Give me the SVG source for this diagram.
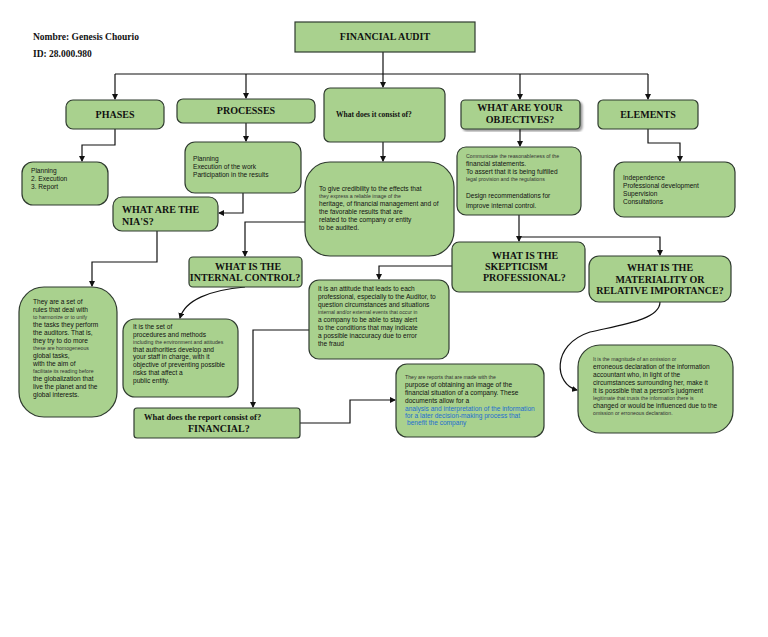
<svg xmlns="http://www.w3.org/2000/svg" width="768" height="637" viewBox="0 0 768 637">
<style>
.b{fill:#a9d18e;stroke:#2f3b2f;stroke-width:1.2}
.t{font-family:"Liberation Serif",serif;font-weight:bold;font-size:10px;fill:#111}
.s{font-family:"Liberation Sans",sans-serif;font-size:6.6px;fill:#111}
.x{font-family:"Liberation Sans",sans-serif;font-size:5.2px;fill:#333}
.bl{font-family:"Liberation Sans",sans-serif;font-size:6.6px;fill:#1f6fd0}
.c{fill:none;stroke:#111;stroke-width:1.2;marker-end:url(#a)}
</style>
<defs><marker id="a" viewBox="0 0 6 6" refX="5" refY="3" markerWidth="5" markerHeight="5" orient="auto"><path d="M0,0L6,3L0,6z" fill="#111"/></marker>
<filter id="sh"><feDropShadow dx="2" dy="2" stdDeviation="1" flood-opacity="0.4"/></filter></defs>
<rect width="768" height="637" fill="#fff"/>
<text class="t" x="33" y="40" style="font-size:9.5px">Nombre: Genesis Chourio</text>
<text class="t" x="33" y="57" style="font-size:9.5px">ID: 28.000.980</text>
<g id="connectors">
<path d="M383,52V74M115,74H648" fill="none" stroke="#111" stroke-width="1.2"/>
<path class="c" d="M115,74V99"/><path class="c" d="M246,74V98"/><path class="c" d="M383,74V87"/><path class="c" d="M520,74V99"/><path class="c" d="M648,74V99"/>
<path class="c" d="M115,129V145H82V161"/>
<path class="c" d="M246,123V141"/>
<path class="c" d="M383,142V161"/>
<path class="c" d="M520,129V146"/>
<path class="c" d="M648,129V143H680V161"/>
<path class="c" d="M243,193V213H219"/>
<path class="c" d="M157,231V262H92V286"/>
<path class="c" d="M305,222H245V256"/>
<path class="c" d="M245,287C210,290 185,300 180,318"/>
<path class="c" d="M519,215V241"/>
<path class="c" d="M519,237H660V255"/>
<path class="c" d="M452,266H379V279"/>
<path class="c" d="M660,302C660,320 620,325 590,332C550,345 555,385 577,390"/>
<path class="c" d="M309,330H253V407"/>
<path class="c" d="M300,423H350V400H395"/>
</g>
<g id="n-audit"><rect class="b" x="295" y="22" width="180" height="30"/><text class="t" x="385" y="40" text-anchor="middle">FINANCIAL AUDIT</text></g>
<g id="n-phases"><rect class="b" x="66" y="100" width="98" height="29" rx="7"/><text class="t" x="115" y="118" text-anchor="middle">PHASES</text></g>
<g id="n-processes"><rect class="b" x="177" y="99" width="138" height="24" rx="6"/><text class="t" x="246" y="114" text-anchor="middle">PROCESSES</text></g>
<g id="n-consist"><rect class="b" x="324" y="88" width="121" height="54" rx="6"/><text class="t" x="336" y="117" style="font-size:7.5px">What does it consist of?</text></g>
<g id="n-objectives"><rect class="b" x="461" y="100" width="119" height="29" rx="4" filter="url(#sh)"/><text class="t" x="520" y="111" text-anchor="middle">WHAT ARE YOUR</text><text class="t" x="520" y="123" text-anchor="middle">OBJECTIVES?</text></g>
<g id="n-elements"><rect class="b" x="598" y="100" width="100" height="29" rx="5"/><text class="t" x="648" y="118" text-anchor="middle">ELEMENTS</text></g>
<g id="n-phaseslist"><rect class="b" x="22" y="162" width="86" height="43" rx="11"/><text class="s" x="31" y="173">Planning</text><text class="s" x="31" y="181">2. Execution</text><text class="s" x="31" y="189">3. Report</text></g>
<g id="n-proclist"><rect class="b" x="185" y="142" width="116" height="51" rx="10"/><text class="s" x="193" y="161">Planning</text><text class="s" x="193" y="169">Execution of the work</text><text class="s" x="193" y="177">Participation in the results</text></g>
<g id="n-consisttext"><rect class="b" x="305" y="162" width="149" height="94" rx="25"/>
<text class="s" x="319" y="191">To give credibility to the effects that</text><text class="x" x="319" y="198">they express a reliable image of the</text><text class="s" x="319" y="206">heritage, of financial management and of</text><text class="s" x="319" y="214">the favorable results that are</text><text class="s" x="319" y="222">related to the company or entity</text><text class="s" x="319" y="230">to be audited.</text></g>
<g id="n-objtext"><rect class="b" x="457" y="147" width="124" height="68" rx="9"/>
<text class="x" x="466" y="158">Communicate the reasonableness of the</text><text class="s" x="466" y="166">financial statements.</text><text class="s" x="466" y="174">To assert that it is being fulfilled</text><text class="x" x="466" y="181">legal provision and the regulations</text><text class="s" x="466" y="198">Design recommendations for</text><text class="s" x="466" y="208">improve internal control.</text></g>
<g id="n-elemtext"><rect class="b" x="614" y="162" width="121" height="55" rx="10"/><text class="s" x="623" y="180">Independence</text><text class="s" x="623" y="188">Professional development</text><text class="s" x="623" y="196">Supervision</text><text class="s" x="623" y="204">Consultations</text></g>
<g id="n-nias"><rect class="b" x="113" y="197" width="105" height="34" rx="9"/><text class="t" x="122" y="213">WHAT ARE THE</text><text class="t" x="122" y="225">NIA'S?</text></g>
<g id="n-niatext"><rect class="b" x="19" y="287" width="98" height="130" rx="25"/>
<text class="s" x="33" y="304">They are a set of</text><text class="s" x="33" y="312">rules that deal with</text><text class="x" x="33" y="319">to harmonize or to unify</text><text class="s" x="33" y="327">the tasks they perform</text><text class="s" x="33" y="335">the auditors. That is,</text><text class="s" x="33" y="343">they try to do more</text><text class="x" x="33" y="350">these are homogeneous</text><text class="s" x="33" y="358">global tasks,</text><text class="s" x="33" y="366">with the aim of</text><text class="x" x="33" y="373">facilitate its reading before</text><text class="s" x="33" y="381">the globalization that</text><text class="s" x="33" y="389">live the planet and the</text><text class="s" x="33" y="397">global interests.</text></g>
<g id="n-ic"><rect class="b" x="189" y="257" width="113" height="30" rx="4"/><text class="t" x="248" y="270" text-anchor="middle">WHAT IS THE</text><text class="t" x="245" y="281" text-anchor="middle">INTERNAL CONTROL?</text></g>
<g id="n-ictext"><rect class="b" x="123" y="319" width="115" height="78" rx="12"/>
<text class="s" x="133" y="329">It is the set of</text><text class="s" x="133" y="337">procedures and methods</text><text class="x" x="133" y="344">including the environment and attitudes</text><text class="s" x="133" y="352">that authorities develop and</text><text class="s" x="133" y="359">your staff in charge, with it</text><text class="s" x="133" y="367">objective of preventing possible</text><text class="s" x="133" y="375">risks that affect a</text><text class="s" x="133" y="383">public entity.</text></g>
<g id="n-skep"><rect class="b" x="452" y="242" width="133" height="50" rx="7"/><text class="t" x="492" y="259">WHAT IS THE</text><text class="t" x="485" y="270">SKEPTICISM</text><text class="t" x="483" y="281">PROFESSIONAL?</text></g>
<g id="n-skeptext"><rect class="b" x="309" y="280" width="140" height="79" rx="10"/>
<text class="s" x="318" y="291">It is an attitude that leads to each</text><text class="s" x="318" y="299">professional, especially to the Auditor, to</text><text class="s" x="318" y="307">question circumstances and situations</text><text class="x" x="318" y="314">internal and/or external events that occur in</text><text class="s" x="318" y="322">a company to be able to stay alert</text><text class="s" x="318" y="330">to the conditions that may indicate</text><text class="s" x="318" y="338">a possible inaccuracy due to error</text><text class="s" x="318" y="346">the fraud</text></g>
<g id="n-mat"><rect class="b" x="589" y="256" width="142" height="46" rx="10"/><text class="t" x="660" y="271" text-anchor="middle">WHAT IS THE</text><text class="t" x="660" y="283" text-anchor="middle">MATERIALITY OR</text><text class="t" x="660" y="294" text-anchor="middle">RELATIVE IMPORTANCE?</text></g>
<g id="n-mattext"><rect class="b" x="578" y="345" width="155" height="88" rx="22"/>
<text class="x" x="593" y="361">It is the magnitude of an omission or</text><text class="s" x="593" y="369">erroneous declaration of the information</text><text class="s" x="593" y="377">accountant who, in light of the</text><text class="s" x="593" y="385">circumstances surrounding her, make it</text><text class="s" x="593" y="393">It is possible that a person's judgment</text><text class="x" x="593" y="400">legitimate that trusts the information there is</text><text class="s" x="593" y="408">changed or would be influenced due to the</text><text class="x" x="593" y="415">omission or erroneous declaration.</text></g>
<g id="n-report"><rect class="b" x="134" y="408" width="166" height="30" rx="3"/><text class="t" x="144" y="420" style="font-size:8.5px">What does the report consist of?</text><text class="t" x="188" y="432">FINANCIAL?</text></g>
<g id="n-reporttext"><rect class="b" x="396" y="364" width="148" height="73" rx="11"/>
<text class="x" x="405" y="379">They are reports that are made with the</text><text class="s" x="405" y="387">purpose of obtaining an image of the</text><text class="s" x="405" y="395">financial situation of a company. These</text><text class="s" x="405" y="403">documents allow for a</text><text class="bl" x="405" y="411">analysis and interpretation of the information</text><text class="bl" x="405" y="418">for a later decision-making process that</text><text class="bl" x="407" y="425">benefit the company</text></g>
</svg>
